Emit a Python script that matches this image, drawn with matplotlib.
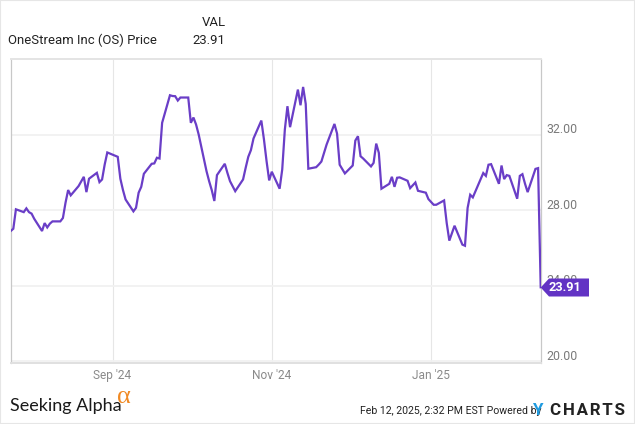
import matplotlib
matplotlib.use("Agg")
import matplotlib.pyplot as plt
from matplotlib.patches import Polygon, Rectangle
from matplotlib.transforms import ScaledTranslation
import pandas as pd

# trading days
dates = pd.to_datetime([
    "2024-07-24", "2024-07-25", "2024-07-26", "2024-07-29", "2024-07-30", "2024-07-31", "2024-08-01", "2024-08-02",
    "2024-08-05", "2024-08-06", "2024-08-07", "2024-08-08", "2024-08-09", "2024-08-12", "2024-08-13", "2024-08-14",
    "2024-08-15", "2024-08-16", "2024-08-19", "2024-08-20", "2024-08-21", "2024-08-22", "2024-08-23", "2024-08-26",
    "2024-08-27", "2024-08-28", "2024-08-29", "2024-08-30", "2024-09-03", "2024-09-04", "2024-09-05", "2024-09-06",
    "2024-09-09", "2024-09-10", "2024-09-11", "2024-09-12", "2024-09-13", "2024-09-16", "2024-09-17", "2024-09-18",
    "2024-09-19", "2024-09-20", "2024-09-23", "2024-09-24", "2024-09-25", "2024-09-26", "2024-09-27", "2024-09-30",
    "2024-10-01", "2024-10-02", "2024-10-03", "2024-10-04", "2024-10-07", "2024-10-08", "2024-10-09", "2024-10-10",
    "2024-10-11", "2024-10-14", "2024-10-15", "2024-10-16", "2024-10-17", "2024-10-18", "2024-10-21", "2024-10-22",
    "2024-10-23", "2024-10-24", "2024-10-25", "2024-10-28", "2024-10-29", "2024-10-30", "2024-10-31", "2024-11-01",
    "2024-11-04", "2024-11-05", "2024-11-06", "2024-11-07", "2024-11-08", "2024-11-11", "2024-11-12", "2024-11-13",
    "2024-11-14", "2024-11-15", "2024-11-18", "2024-11-19", "2024-11-20", "2024-11-21", "2024-11-22", "2024-11-25",
    "2024-11-26", "2024-11-27", "2024-11-29", "2024-12-02", "2024-12-03", "2024-12-04", "2024-12-05", "2024-12-06",
    "2024-12-09", "2024-12-10", "2024-12-11", "2024-12-12", "2024-12-13", "2024-12-16", "2024-12-17", "2024-12-18",
    "2024-12-19", "2024-12-20", "2024-12-23", "2024-12-24", "2024-12-26", "2024-12-27", "2024-12-30", "2024-12-31",
    "2025-01-02", "2025-01-03", "2025-01-06", "2025-01-07", "2025-01-08", "2025-01-10", "2025-01-13", "2025-01-14",
    "2025-01-15", "2025-01-16", "2025-01-17", "2025-01-21", "2025-01-22", "2025-01-23", "2025-01-24", "2025-01-27",
    "2025-01-28", "2025-01-29", "2025-01-30", "2025-01-31", "2025-02-03", "2025-02-04", "2025-02-05", "2025-02-06",
    "2025-02-07", "2025-02-10", "2025-02-11", "2025-02-12",
])
prices = [
    26.89, 27.01, 28.04, 27.89, 28.09, 27.89, 27.81, 27.54,
    26.89, 27.31, 27.08, 27.28, 27.40, 27.40, 27.58, 28.39,
    29.06, 28.78, 29.27, 29.52, 29.76, 28.95, 29.66, 29.97,
    29.48, 29.62, 30.41, 31.05, 30.82, 29.66, 29.06, 28.56,
    27.93, 28.12, 28.92, 29.23, 29.92, 30.45, 30.47, 30.77,
    30.73, 32.62, 34.08, 34.04, 34.03, 33.80, 33.96, 33.96,
    32.62, 32.90, 32.53, 32.00, 30.06, 29.53, 29.06, 28.48,
    29.85, 30.45, 29.97, 29.53, 29.27, 29.00, 29.62, 30.24,
    30.82, 31.17, 31.79, 32.74, 31.74, 30.59, 29.57, 30.03,
    29.13, 30.15, 32.26, 33.50, 32.39, 34.38, 33.55, 34.52,
    33.62, 30.19, 30.27, 30.41, 30.57, 31.03, 31.47, 32.56,
    32.05, 30.40, 29.94, 30.36, 31.68, 31.91, 30.85, 30.73,
    30.31, 30.50, 31.52, 31.03, 29.13, 29.39, 29.76, 29.23,
    29.71, 29.73, 29.55, 29.16, 29.46, 29.02, 28.92, 28.58,
    28.28, 28.28, 28.51, 27.31, 26.38, 27.17, 26.17, 26.11,
    28.11, 28.81, 28.67, 29.96, 29.81, 30.40, 30.43, 29.39,
    30.36, 29.64, 29.85, 29.81, 28.60, 29.81, 29.90, 29.39,
    28.95, 30.18, 30.22, 23.91,
]
y_ticks = [20, 24, 28, 32]
x_ticks = pd.to_datetime(["2024-09-01", "2024-11-01", "2025-01-01"])
x_labels = ["Sep '24", "Nov '24", "Jan '25"]

W, H = 635, 424
PURPLE = "#6233c4"

plt.rcParams["font.family"] = ["Roboto", "DejaVu Sans"]

fig = plt.figure(figsize=(W / 100, H / 100), dpi=100)
fig.patch.set_facecolor("white")
left, right, top, bottom = 10.7, 540.7, 59, 363
ax = fig.add_axes([left / W, 1 - bottom / H, (right - left) / W, (bottom - top) / H])

ax.plot(dates, prices, color=PURPLE, lw=1.6, solid_joinstyle="miter", zorder=3, alpha=0.95)
ax.set_xlim(pd.Timestamp("2024-07-24"), pd.Timestamp("2025-02-12"))
ax.set_ylim(19.9, 36.0)

ax.set_yticks(y_ticks)
ax.set_yticklabels([f"{v:.2f}" for v in y_ticks], va="baseline")
ax.yaxis.tick_right()
ax.set_xticks(x_ticks)
ax.set_xticklabels(x_labels)
ax.tick_params(axis="y", length=0, pad=4.2, labelsize=8.9, labelcolor="#7a7a7a")
ax.tick_params(axis="x", length=0, pad=4.5, labelsize=8.6, labelcolor="#8a8a8a")
ax.grid(axis="y", color="#f1f1f1", lw=1.3)
ax.grid(axis="x", color="#e6e6e6", lw=0.8)
ax.set_axisbelow(True)

# labels sit a pixel above their gridline
nudge = ScaledTranslation(0, 1.2 / 100, fig.dpi_scale_trans)
for lab in ax.get_yticklabels():
    lab.set_transform(lab.get_transform() + nudge)

ax.spines["left"].set_color("#c8c8c8")
ax.spines["right"].set_color("#c8c8c8")
ax.spines["top"].set_color("#e4e4e4")
ax.spines["bottom"].set_color("#e0e0e0")
ax.spines["left"].set_linewidth(0.9)
ax.spines["right"].set_linewidth(0.9)
ax.spines["top"].set_linewidth(1.4)
ax.spines["bottom"].set_linewidth(1.4)


def px(x, y):
    return (x / W, 1 - y / H)


# last value flag
flag = [(540.7, 287.5), (549, 278.5), (589, 278.5), (589, 296.5), (549, 296.5)]
fig.add_artist(Polygon([px(*p) for p in flag], closed=True, transform=fig.transFigure,
                       facecolor=PURPLE, edgecolor="none", zorder=5))
fig.text(*px(565, 287.5), f"{prices[-1]:.2f}", color="white", fontsize=9.2, fontweight="bold",
         ha="center", va="center", zorder=6)

# header
fig.text(*px(8, 40), "OneStream Inc (OS) Price", fontsize=9.45, color="#222222", ha="left", va="center")
fig.text(*px(226, 23), "VAL", fontsize=9.45, color="#222222", ha="right", va="center")
fig.text(*px(225, 40), f"{prices[-1]:.2f}", fontsize=9.45, color="#222222", ha="right", va="center")

# footer
fig.text(*px(10, 406.5), "Seeking Alpha", fontsize=13, color="#1a1a1a", family=["Lato"],
         ha="left", va="center")
fig.text(*px(117.5, 397), "\u03b1", fontsize=19, color="#f08a24", family=["Liberation Serif"],
         ha="left", va="center")
fig.text(*px(360, 411), "Feb 12, 2025, 2:32 PM EST Powered by", fontsize=7.55, color="#222222",
         ha="left", va="center")
fig.text(*px(532, 410.5), "Y", fontsize=12.4, color="#1f9be0", fontweight="bold", ha="left", va="center")
fig.text(*px(550, 410.5), "C\u200aH\u200aA\u200aR\u200aT\u200aS", fontsize=12.2, color="#222222",
         fontweight="bold", ha="left", va="center")

# thin frame round the image
fig.add_artist(Rectangle((0, 0), 1, 1, transform=fig.transFigure, fill=False, edgecolor="#e6e6e6", lw=1.5))

fig.savefig("out.png", dpi=100)
